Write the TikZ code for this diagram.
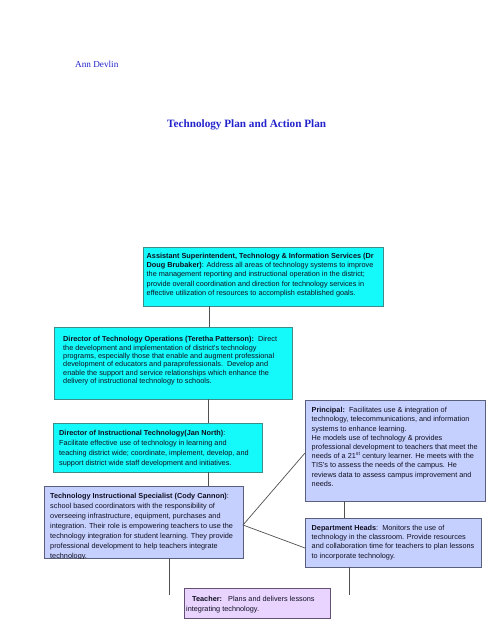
\documentclass[tikz,border=0pt]{standalone}
\usepackage{fontspec}
\setmainfont{Liberation Serif}
\newfontfamily\arialf{Liberation Sans}
\definecolor{cyanfill}{RGB}{20,250,250}
\definecolor{cyanline}{RGB}{60,140,140}
\definecolor{lavfill}{RGB}{198,208,255}
\definecolor{lavline}{RGB}{90,95,125}
\definecolor{purfill}{RGB}{232,212,255}
\definecolor{purline}{RGB}{100,80,115}
\definecolor{conn}{RGB}{80,80,80}
\definecolor{titleblue}{RGB}{35,35,205}
\definecolor{txt}{RGB}{15,15,30}
\begin{document}
\begin{tikzpicture}[x=1pt,y=-1pt,
  boxbase/.style={anchor=north west, inner sep=0pt, line width=1pt},
  cbox/.style={boxbase, draw=cyanline, fill=cyanfill},
  lbox/.style={boxbase, draw=lavline, fill=lavfill},
  pbox/.style={boxbase, draw=purline, fill=purfill},
  bodytext/.style={anchor=north west, inner sep=0pt, align=left, text=txt},
  connector/.style={draw=conn, line width=0.7pt}
]
\useasboundingbox (0,0) rectangle (495,640);
\fill[white] (0,0) rectangle (495,640);

% headings
\node[anchor=west, inner sep=0pt, text=titleblue, font=\fontsize{9.2}{11}\selectfont] (author) at (75,64) {Ann Devlin};
\node[anchor=west, inner sep=0pt, text=titleblue, font=\fontsize{11.2}{13}\selectfont\bfseries] (title) at (167,125) {Technology Plan and Action Plan};

% boxes
\node[cbox, minimum width=240pt, minimum height=59pt] (b1) at (143,247) {};
\node[cbox, minimum width=238pt, minimum height=72pt] (b2) at (54,327) {};
\node[cbox, minimum width=209pt, minimum height=49pt] (b3) at (53,423) {};
\node[lbox, minimum width=199pt, minimum height=72pt] (b4) at (44,486) {};
\node[lbox, minimum width=180pt, minimum height=101pt] (b5) at (305,400) {};
\node[lbox, minimum width=176pt, minimum height=49pt] (b6) at (305,518) {};
\node[pbox, minimum width=146pt, minimum height=30pt] (b7) at (184,588) {};

% texts
\node[bodytext, font=\arialf\fontsize{7.3}{9.25}\selectfont] (t1) at (146.5,253) {%
\textbf{Assistant Superintendent, Technology \& Information Services (Dr}\\
\textbf{Doug Brubaker)}: Address all areas of technology systems to improve\\
the management reporting and instructional operation in the district;\\
provide overall coordination and direction for technology services in\\
effective utilization of resources to accomplish established goals.};

\node[bodytext, font=\arialf\fontsize{7.3}{8.4}\selectfont] (t2) at (63,336.3) {%
\textbf{Director of Technology Operations (Teretha Patterson):}\ \ Direct\\
the development and implementation of district's technology\\
programs, especially those that enable and augment professional\\
development of educators and paraprofessionals.\ \ Develop and\\
enable the support and service relationships which enhance the\\
delivery of instructional technology to schools.};

\node[bodytext, font=\arialf\fontsize{7.3}{10}\selectfont] (t3) at (59,429.6) {%
\textbf{Director of Instructional Technology(Jan North)}:\\
Facilitate effective use of technology in learning and\\
teaching district wide; coordinate, implement, develop, and\\
support district wide staff development and initiatives.};

\begin{scope}
\clip ([shift={(0.5pt,-0.5pt)}]b4.north west) rectangle ([shift={(-0.5pt,0.5pt)}]b4.south east);
\node[bodytext, font=\arialf\fontsize{7.3}{10}\selectfont] (t4) at (50,493) {%
\textbf{Technology Instructional Specialist (Cody Cannon)}:\\
school based coordinators with the responsibility of\\
overseeing infrastructure, equipment, purchases and\\
integration. Their role is empowering teachers to use the\\
technology integration for student learning. They provide\\
professional development to help teachers integrate\\
technology.};
\end{scope}

\node[bodytext, font=\arialf\fontsize{7.3}{9.2}\selectfont] (t5) at (311.5,407.3) {%
\textbf{Principal:}\ \ Facilitates use \& integration of\\
technology, telecommunications, and information\\
systems to enhance learning.\\
He models use of technology \& provides\\
professional development to teachers that meet the\\
needs of a 21\textsuperscript{st} century learner. He meets with the\\
TIS's to assess the needs of the campus. He\\
reviews data to assess campus improvement and\\
needs.};

\node[bodytext, font=\arialf\fontsize{7.3}{9.2}\selectfont] (t6) at (311.5,525) {%
\textbf{Department Heads}:\ \ Monitors the use of\\
technology in the classroom. Provide resources\\
and collaboration time for teachers to plan lessons\\
to incorporate technology.};

\node[bodytext, font=\arialf\fontsize{7.3}{9.3}\selectfont] (t7) at (186,596.3) {%
\hspace*{6pt}\textbf{Teacher:}\ \ \ Plans and delivers lessons\\
integrating technology.};

% connectors
\coordinate (b1s) at (209,306);
\coordinate (b2n) at (209,327);
\draw[connector] (b1s) -- (b2n);
\coordinate (b2s) at (208,399);
\coordinate (b3n) at (208,423);
\draw[connector] (b2s) -- (b3n);
\coordinate (b3s) at (208,472);
\coordinate (b4n) at (208,486);
\draw[connector] (b3s) -- (b4n);
\coordinate (b4e) at (243,525);
\coordinate (b5w) at (305,453);
\coordinate (b6w) at (305,548);
\draw[connector] (b4e) -- (b5w);
\draw[connector] (b4e) -- (b6w);
\coordinate (b5s) at (344,501);
\coordinate (b6n) at (344,518);
\draw[connector] (b5s) -- (b6n);
\coordinate (b4s) at (169,558);
\coordinate (end1) at (169,595);
\draw[connector] (b4s) -- (end1);
\coordinate (b6s) at (349,567);
\coordinate (end2) at (349,595);
\draw[connector] (b6s) -- (end2);
\end{tikzpicture}
\end{document}
